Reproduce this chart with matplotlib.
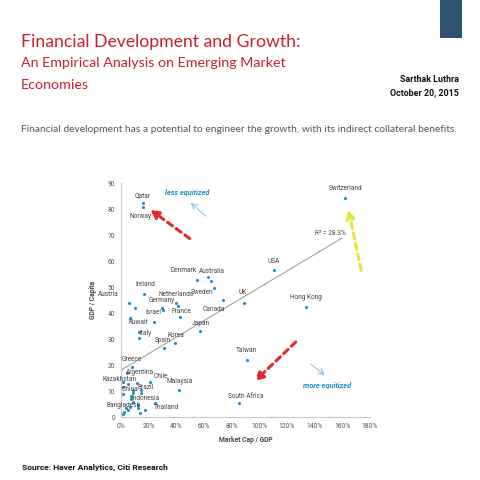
import numpy as np
import matplotlib
matplotlib.use("Agg")
import matplotlib.pyplot as plt
from matplotlib.patches import Rectangle

# scatter data: market cap / GDP (%) vs GDP per capita ('000)
mcap = [16, 16, 161.7, 110.5, 55, 62.8, 65, 67, 73.6, 88.8, 57, 133.6, 91, 85,
        5.8, 16.6, 10, 29.6, 30.3, 39.7, 41, 42.6, 23.8, 6.5, 13, 13, 39, 31,
        8, 4.3, 21, 42, 1.5, 1.5, 1.5, 5, 11.5, 14.4, 14.4, 8.7, 8.7,
        7.2, 7.5, 8.7, 24.5, 2, 1.2, 3.6, 5, 6.5, 12, 13.7, 17.3, 12.3]
gdp = [82.3, 80.8, 84.2, 56.5, 52.7, 53.8, 52.3, 49.6, 45, 43.8, 33, 42.4, 22, 5.4,
       44, 47.3, 42, 42, 41, 44, 42.7, 38.5, 36.5, 38, 32.7, 30.4, 28.5, 26.5,
       19.2, 17, 13.5, 10.4, 13.5, 11.5, 9, 12.7, 13, 10.4, 9.2, 10.4, 9.2,
       8, 7, 5.8, 5.4, 2, 1.2, 3.5, 2.7, 3.8, 3.5, 1.5, 2.7, 4.6]

countries = ["Qatar", "Norway", "Switzerland", "USA", "Denmark", "Australia", "Sweden",
             "Ireland", "Austria", "Netherlands", "Germany", "Israel", "France", "Canada",
             "UK", "Kuwait", "Italy", "Japan", "Korea", "Spain", "Hong Kong", "Taiwan",
             "South Africa", "Greece", "Argentina", "Chile", "Kazakhstan", "Malaysia",
             "Brazil", "China", "Indonesia", "Thailand", "Bangladesh"]
label_x = [16, 14.4, 162.5, 110.5, 45.5, 65.7, 58.5, 17.3, -9.4, 39.7, 29.6, 23.1, 43.3,
           67, 88, 12.3, 18, 57.8, 39.7, 30.3, 133.6, 91, 90, 8, 14, 29, -1, 42.6,
           18, 6.5, 18, 33, 1.5]
label_y = [85, 77.3, 87.7, 60, 56.5, 55.8, 48, 50.8, 47.3, 47.3, 45, 40, 40.4, 41.5,
           47.7, 36.2, 32.3, 36, 31.5, 29.6, 45.8, 25.4, 8, 22, 17.3, 15.6, 14.6, 13.8,
           11.5, 10.6, 7.3, 3.8, 4.6]

# trend line
trend_b = 18.0
trend_m = 0.318
trend_x = [0, 159.6]

xticks = list(range(0, 181, 20))
yticks = list(range(0, 91, 10))

fig = plt.figure(figsize=(4.8, 4.8), dpi=100)
fig.patch.set_facecolor("white")

narrow = ["Roboto", "DejaVu Sans"]
red = "#cc1f2d"

# header
fig.add_artist(Rectangle((440 / 480, 1 - 38 / 480), 22 / 480, 38 / 480,
                         transform=fig.transFigure, color="#2f5273", lw=0))
fig.text(21 / 480, 1 - 42 / 480, "Financial Development and Growth:", color=red,
         fontsize=12.7, family="Lato", va="center", ha="left")
fig.text(21 / 480, 1 - 63 / 480, "An Empirical Analysis on Emerging Market", color=red,
         fontsize=10.3, family="Lato", va="center", ha="left")
fig.text(21 / 480, 1 - 85 / 480, "Economies", color=red,
         fontsize=10.3, family="Lato", va="center", ha="left")
fig.text(459 / 480, 1 - 79 / 480, "Sarthak Luthra", fontsize=6.4, family=narrow,
         fontweight="bold", ha="right", va="center", color="#111111")
fig.text(459 / 480, 1 - 93 / 480, "October 20, 2015", fontsize=6.4, family=narrow,
         fontweight="bold", ha="right", va="center", color="#111111")
fig.text(21 / 480, 1 - 130 / 480,
         "Financial development has a potential to engineer the growth, with its indirect collateral benefits.",
         fontsize=7.4, family="Lato", color="#555555", ha="left", va="center")
fig.text(22 / 480, 1 - 467 / 480, "Source: Haver Analytics, Citi Research", fontsize=6.1,
         family=narrow, fontweight="bold", ha="left", va="center", color="#111111")

# chart
ax = fig.add_axes([121 / 480, 1 - 417 / 480, 249 / 480, 234 / 480])
ax.set_xlim(0, 180)
ax.set_ylim(0, 90)
ax.set_xticks(xticks)
ax.set_xticklabels([f"{t}%" for t in xticks])
ax.set_yticks(yticks)
for s in ["top", "right"]:
    ax.spines[s].set_visible(False)
for s in ["left", "bottom"]:
    ax.spines[s].set_color("#c8c8c8")
    ax.spines[s].set_linewidth(0.8)
ax.tick_params(length=0, labelsize=4.9, labelcolor="#555555", pad=4)
for lab in ax.get_xticklabels() + ax.get_yticklabels():
    lab.set_family(narrow)
ax.set_xlabel("Market Cap / GDP", fontsize=4.9, fontweight="bold", color="#444444",
              family=narrow, labelpad=5)
ax.set_ylabel("GDP / Capita", fontsize=4.9, fontweight="bold", color="#444444",
              family=narrow, labelpad=8)

tx = np.array(trend_x)
ax.plot(tx, trend_b + trend_m * tx, color="#a0a0a0", lw=0.8)
ax.text(151, 70.4, "R² = 28.3%", fontsize=4.7, family=narrow, color="#444444",
        ha="center", va="center")

ax.scatter(mcap, gdp, s=5, color="#1b8fd0", zorder=3, lw=0)
for name, lx, ly in zip(countries, label_x, label_y):
    ax.text(lx, ly, name, fontsize=4.7, family=narrow, color="#444444",
            ha="center", va="center", clip_on=False)

# annotations
ax.text(47.7, 86.5, "less equitized", fontsize=5.3, color="#1b8fd0", style="italic",
        fontweight="bold", family=narrow, ha="center", va="center")
ax.text(148.7, 12, "more equitized", fontsize=5.3, color="#1b8fd0", style="italic",
        fontweight="bold", family=narrow, ha="center", va="center")
ax.annotate("", xy=(49, 83), xytext=(62.8, 76.5),
            arrowprops=dict(arrowstyle="->", color="#7fbfe0", lw=0.7))
ax.annotate("", xy=(148.7, 15.4), xytext=(135.7, 21),
            arrowprops=dict(arrowstyle="->", color="#7fbfe0", lw=0.7))
ax.annotate("", xy=(19.5, 80.4), xytext=(51.3, 68),
            arrowprops=dict(arrowstyle="-|>", color="#e02b2b", lw=2.2, linestyle=(0, (2, 1.5)),
                            mutation_scale=12))
ax.annotate("", xy=(95.3, 13), xytext=(127.8, 29.6),
            arrowprops=dict(arrowstyle="-|>", color="#e02b2b", lw=2.2, linestyle=(0, (2, 1.5)),
                            mutation_scale=12))
ax.annotate("", xy=(164, 80.8), xytext=(174, 55.4),
            arrowprops=dict(arrowstyle="-|>", color="#e4e43a", lw=2.2, linestyle=(0, (2, 1.5)),
                            mutation_scale=12), annotation_clip=False)

fig.savefig("out.png", dpi=100)
